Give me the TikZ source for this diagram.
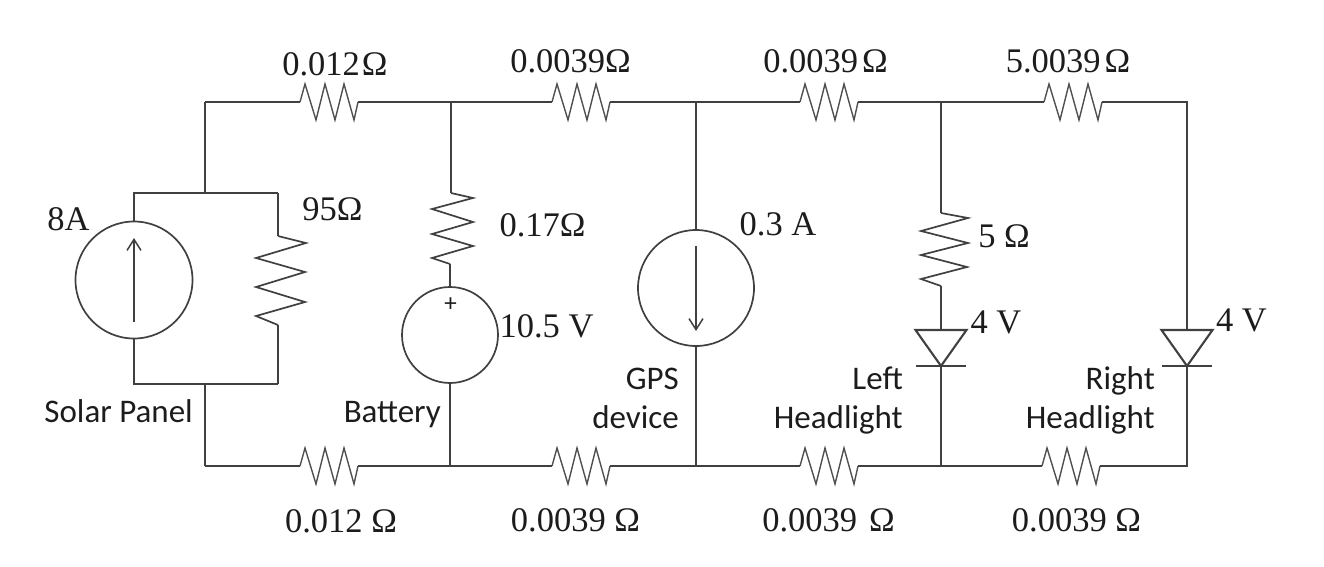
\documentclass[tikz,border=0pt]{standalone}
\usepackage{fontspec}
\setmainfont{Liberation Serif}
\setsansfont{Carlito}
\usetikzlibrary{arrows.meta}
\definecolor{wirec}{HTML}{404040}
\definecolor{hzigc}{HTML}{505050}
\definecolor{txtc}{HTML}{1C1C1C}
\tikzset{
  wire/.style={draw=wirec,line width=1.9pt,line join=miter},
  zig/.style={draw=wirec,line width=1.7pt,line join=miter},
  hzig/.style={draw=hzigc,line width=1.4pt,line join=miter},
  src/.style={circle,draw=wirec,line width=1.7pt,inner sep=0pt,outer sep=0pt,minimum size=#1},
  val/.style={text=txtc,inner sep=0pt,anchor=base,font=\fontsize{34.5}{40}\selectfont},
  lbl/.style={text=txtc,inner sep=0pt,anchor=base east,align=right,font=\sffamily\fontsize{33}{39}\selectfont},
  flow/.style={draw=wirec,line width=1.5pt,-{Straight Barb[length=11pt,width=14pt,line width=1.5pt]}},
  pics/hres/.style={code={
    \coordinate (-a) at (0,0);
    \coordinate (-b) at (58,0);
    \draw[hzig] (-a) -- (5,-18) -- (16,18) -- (25,-18) -- (35,18) -- (44,-18) -- (54,18) -- (-b);
  }},
  pics/diode/.style={code={
    \coordinate (-a) at (0,-36);
    \coordinate (-b) at (0,0);
    \draw[wire,line width=2.1pt] (-25.5,-36) -- (25.5,-36) -- (0,0) -- cycle;
    \draw[wire,line width=2.1pt] (-25,0) -- (25,0);
  }}
}
\begin{document}
\begin{tikzpicture}[x=1pt,y=-1pt]
\useasboundingbox (0,0) rectangle (1324,566);
% junctions
\coordinate (tl) at (205,102);
\coordinate (j1) at (451,102);
\coordinate (j2) at (696,102);
\coordinate (j3) at (941,102);
\coordinate (tr) at (1187,102);
\coordinate (bl) at (205,466);
\coordinate (k1) at (450,466);
\coordinate (k2) at (696,466);
\coordinate (k3) at (941,466);
\coordinate (br) at (1187,466);
\coordinate (pt) at (205,193);
\coordinate (pb) at (205,384);
\coordinate (ptl) at (134,193);
\coordinate (ptr) at (278,193);
\coordinate (pbl) at (134,384);
\coordinate (pbr) at (278,384);
% horizontal resistors
\pic (r1) at (300,102) {hres};
\pic (r2) at (552,102) {hres};
\pic (r3) at (800,102) {hres};
\pic (r4) at (1044,102) {hres};
\pic (s1) at (300,466) {hres};
\pic (s2) at (552,466) {hres};
\pic (s3) at (800,466) {hres};
\pic (s4) at (1042,466) {hres};
% sources
\node[src=117pt] (isrc) at (134,280) {};
\node[src=96pt] (batt) at (450,335) {};
\node[src=116pt] (gps) at (696,288) {};
% diodes
\pic (d1) at (941,366) {diode};
\pic (d2) at (1187,366) {diode};
% wires
\draw[wire] (tl) -- (r1-a) (r1-b) -- (j1) -- (r2-a) (r2-b) -- (j2) -- (r3-a) (r3-b) -- (j3) -- (r4-a) (r4-b) -- (tr) -- (d2-a);
\draw[wire] (bl) -- (s1-a) (s1-b) -- (k1) -- (s2-a) (s2-b) -- (k2) -- (s3-a) (s3-b) -- (k3) -- (s4-a) (s4-b) -- (br) -- (d2-b);
\draw[wire] (tl) -- (pt);
\draw[wire] (bl) -- (pb);
\draw[wire] (isrc.north) -- (ptl) -- (ptr);
\draw[wire] (isrc.south) -- (pbl) -- (pbr);
% 95 ohm
\coordinate (r95a) at (278,236);
\coordinate (r95b) at (278,325);
\draw[wire] (ptr) -- (r95a);
\draw[wire] (pbr) -- (r95b);
\draw[zig] (r95a) -- (306,243) -- (256,258) -- (305,272) -- (256,287) -- (305,302) -- (256,316) -- (r95b);
% 0.17 ohm
\coordinate (r17a) at (451,193);
\coordinate (r17b) at (450,264);
\draw[wire] (j1) -- (r17a);
\draw[wire] (r17b) -- (batt.north);
\draw[wire] (batt.south) -- (k1);
\draw[zig] (r17a) -- (473,198) -- (432,209) -- (473,222) -- (432,234) -- (473,246) -- (432,258) -- (r17b);
% GPS
\draw[wire] (j2) -- (gps.north);
\draw[wire] (gps.south) -- (k2);
% 5 ohm
\coordinate (r5a) at (941,213);
\coordinate (r5b) at (941,286);
\draw[wire] (j3) -- (r5a);
\draw[wire] (r5b) -- (d1-a);
\draw[wire] (d1-b) -- (k3);
\draw[zig] (r5a) -- (968,218) -- (921,231) -- (968,243) -- (921,255) -- (967,267) -- (921,279) -- (r5b);
% arrows inside sources
\coordinate (ia) at (134,322);
\coordinate (ib) at (134,238);
\coordinate (ga) at (696,246);
\coordinate (gb) at (696,331);
\draw[flow] (ia) -- (ib);
\draw[flow] (ga) -- (gb);
% plus
\node[text=txtc,inner sep=0pt,font=\sffamily\fontsize{25}{25}\selectfont] (plus) at (450.5,305) {+};
% values
\node[val] (v1) at (335,75) {0.012\kern2pt Ω};
\node[val] (v2) at (570.5,72) {0.0039Ω};
\node[val] (v3) at (825.5,72) {0.0039\kern4pt Ω};
\node[val] (v4) at (1068,72) {5.0039\kern4pt Ω};
\node[val] (v5) at (332.5,220) {95Ω};
\node[val] (v6) at (68.5,230) {8A};
\node[val] (v7) at (542.5,236) {0.17Ω};
\node[val] (v8) at (778,235) {0.3 A};
\node[val] (v9) at (1004,247) {5 Ω};
\node[val] (v10) at (996,333) {4 V};
\node[val] (v11) at (1241.5,331) {4 V};
\node[val] (v12) at (546.5,337) {10.5 V};
\node[val] (v13) at (341,532) {0.012 Ω};
\node[val] (v14) at (575.5,531) {0.0039 Ω};
\node[val] (v15) at (828.5,531) {0.0039\kern12pt Ω};
\node[val] (v16) at (1076.5,531) {0.0039 Ω};
% labels
\node[lbl] (n1) at (193,422.5) {Solar Panel};
\node[lbl] (n2) at (441,422.5) {Battery};
\node[lbl] (n3) at (679,428) {GPS\\device};
\node[lbl] (n4) at (903,428) {Left\\Headlight};
\node[lbl] (n5) at (1155,428) {Right\\Headlight};
\end{tikzpicture}
\end{document}
